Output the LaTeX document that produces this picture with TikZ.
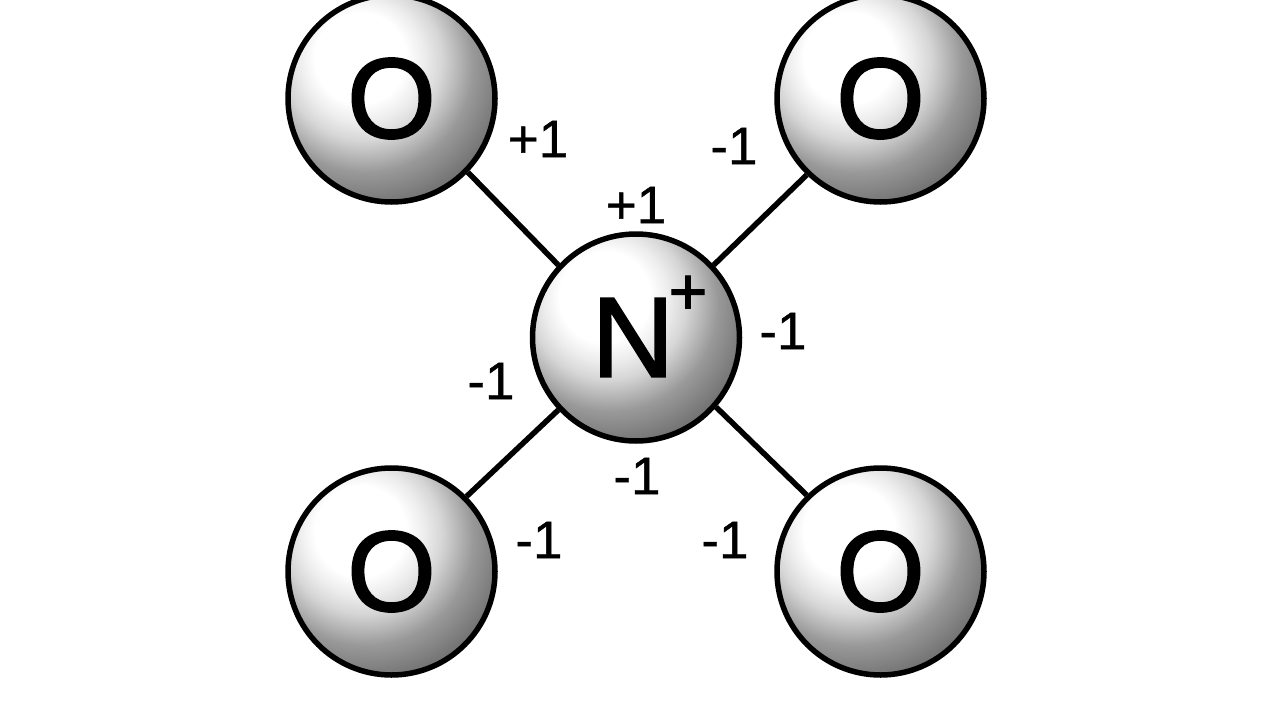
\documentclass[tikz,border=0pt]{standalone}
\usepackage{fontspec}
\setmainfont{Liberation Sans}
\newfontfamily\heavyfont[FakeBold=1.8]{Liberation Sans}
\newfontfamily\midfont[FakeBold=0.8]{Liberation Sans}
\pgfdeclareradialshading{atomball}{\pgfpoint{-8.5bp}{11bp}}{
  color(0bp)=(white);
  color(11bp)=(white);
  color(15bp)=(black!7);
  color(19bp)=(black!16);
  color(26bp)=(black!40);
  color(33bp)=(black!54);
  color(100bp)=(black!54)}
\tikzset{
  x=1pt,y=-1pt,
  atom/.style={circle,draw=black,line width=5.5pt,minimum size=207pt,inner sep=0pt,
    shading=atomball,font=\heavyfont\fontsize{114}{114}\selectfont},
  bond/.style={line width=5.5pt,draw=black},
  charge/.style={inner sep=0pt,font=\midfont\fontsize{53}{53}\selectfont},
}
\begin{document}
\begin{tikzpicture}
\useasboundingbox (0,0) rectangle (1280,720);
\fill[white] (0,0) rectangle (1280,720);
\node[atom] (oa) at (391.5,98.5) {O};
\node[atom] (ob) at (880.5,98.5) {O};
\node[atom] (oc) at (391.5,571.5) {O};
\node[atom] (od) at (880.5,571.5) {O};
\node[atom] (n) at (636,337.5) {\hspace{-6pt}N};
\draw[bond] (oa.316) -- (n.137);
\draw[bond] (ob.226) -- (n.43);
\draw[bond] (oc.45) -- (n.223);
\draw[bond] (od.134) -- (n.319);
\node[charge,font=\heavyfont\fontsize{66}{66}\selectfont] (plus) at (688,295) {+};
\node[charge] (q1) at (538,139) {+1};
\node[charge] (q2) at (734,146) {-1};
\node[charge] (q3) at (636,205) {+1};
\node[charge] (q4) at (783,331) {-1};
\node[charge] (q5) at (491,381) {-1};
\node[charge] (q6) at (637,476) {-1};
\node[charge] (q7) at (539,540) {-1};
\node[charge] (q8) at (725,540) {-1};
\end{tikzpicture}
\end{document}
